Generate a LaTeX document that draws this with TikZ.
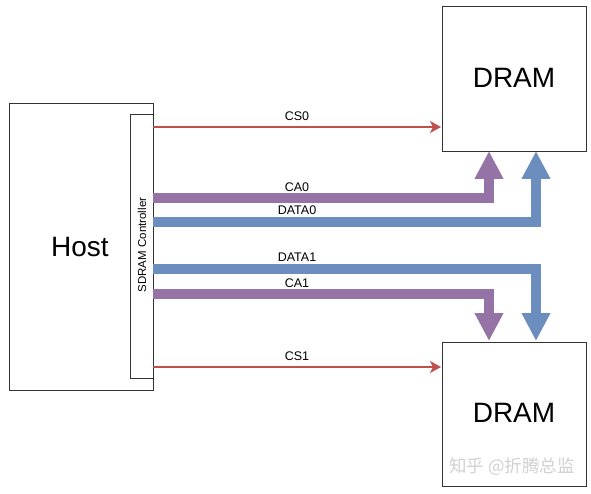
\documentclass[tikz,border=0pt]{standalone}
\usepackage{fontspec}
\setmainfont{Liberation Sans}
\newfontfamily\cjk{Noto Sans CJK SC}
\usetikzlibrary{arrows.meta}
\definecolor{cred}{HTML}{C0504D}
\definecolor{cpurple}{HTML}{9673A6}
\definecolor{cblue}{HTML}{6C8EBF}
\definecolor{cbox}{HTML}{333333}
\tikzset{
  box/.style={draw=cbox, line width=1.2pt, fill=white, inner sep=0pt, anchor=north west},
  thin sig/.style={draw=cred, line width=2.2pt, -{Stealth[length=11pt,width=12pt,inset=3pt]}},
  bus/.style={line width=10pt, line join=miter, -{Triangle[length=28pt,width=27pt]}},
  lbl/.style={font=\fontsize{12.5}{14}\selectfont, inner sep=0pt},
  big/.style={font=\fontsize{28}{32}\selectfont}
}
\begin{document}
\begin{tikzpicture}[x=1pt,y=-1pt]
\useasboundingbox (0,0) rectangle (591,494);
% boxes
\node[box, minimum width=144pt, minimum height=287pt] (host) at (9,103) {};
\node[big] (hosttxt) at (80,247) {Host};
\node[box, minimum width=23pt, minimum height=264pt] (ctrl) at (130,114) {};
\node[rotate=90, font=\fontsize{11.5}{13}\selectfont, inner sep=0pt] (ctrltxt) at (142,245) {SDRAM Controller};
\node[box, minimum width=144pt, minimum height=145pt] (dram0) at (442,6) {};
\node[big] (dram0txt) at (514,78) {DRAM};
\node[box, minimum width=144pt, minimum height=144pt] (dram1) at (442,342) {};
\node[big] (dram1txt) at (514,413) {DRAM};
\node[font=\cjk\fontsize{17.5}{19}\selectfont, text=black!18, inner sep=0pt] (wm) at (512,467) {知乎 @折腾总监};
% anchor coordinates
\coordinate (cs0s) at (153,127);
\coordinate (cs0e) at (441,127);
\coordinate (cs1s) at (153,367);
\coordinate (cs1e) at (441,367);
\coordinate (ca0s) at (153,198);
\coordinate (ca0c) at (489,198);
\coordinate (ca0e) at (489,151);
\coordinate (d0s) at (153,222);
\coordinate (d0c) at (536,222);
\coordinate (d0e) at (536,151);
\coordinate (d1s) at (153,269);
\coordinate (d1c) at (536,269);
\coordinate (d1e) at (536,341);
\coordinate (ca1s) at (153,294);
\coordinate (ca1c) at (489,294);
\coordinate (ca1e) at (489,341);
% connectors
\draw[thin sig] (cs0s) -- (cs0e);
\draw[thin sig] (cs1s) -- (cs1e);
\draw[bus, draw=cpurple] (ca0s) -- (ca0c) -- (ca0e);
\draw[bus, draw=cblue] (d0s) -- (d0c) -- (d0e);
\draw[bus, draw=cblue] (d1s) -- (d1c) -- (d1e);
\draw[bus, draw=cpurple] (ca1s) -- (ca1c) -- (ca1e);
% labels
\node[lbl] (lcs0) at (297,116) {CS0};
\node[lbl] (lca0) at (297,187) {CA0};
\node[lbl] (ld0) at (297,210) {DATA0};
\node[lbl] (ld1) at (297,257) {DATA1};
\node[lbl] (lca1) at (297,283) {CA1};
\node[lbl] (lcs1) at (297,356) {CS1};
\end{tikzpicture}
\end{document}
